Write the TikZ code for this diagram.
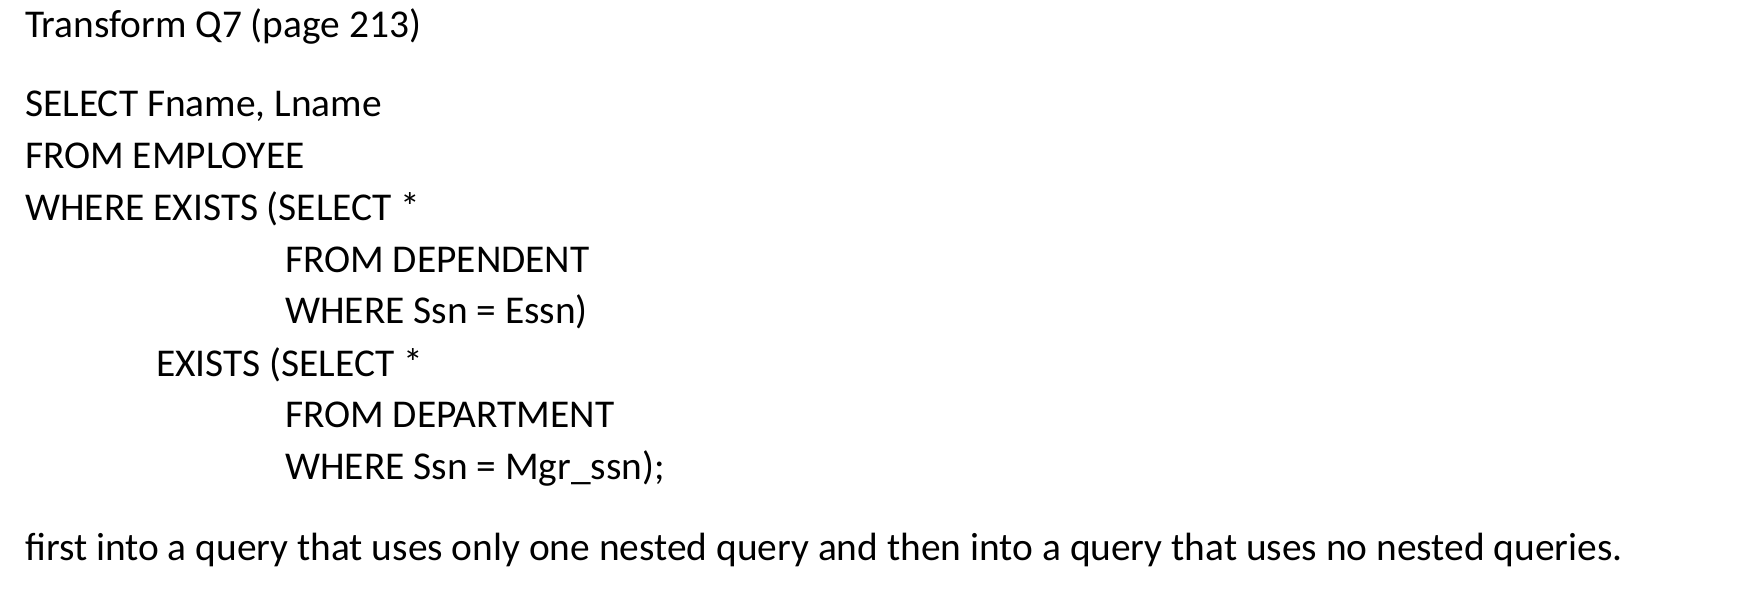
\documentclass[tikz,border=0pt]{standalone}
\usepackage{fontspec}
\setmainfont{Carlito}
\begin{document}
\begin{tikzpicture}[x=1pt,y=-1pt,txt/.style={anchor=base west,inner sep=0pt,font=\fontsize{39.4}{46}\selectfont}]
\useasboundingbox[fill=white] (0,0) rectangle (1746,592);
\node[txt] (t) at (25,37) {Transform Q7 (page 213)};
\node[txt] (l1) at (25,116) {SELECT Fname, Lname};
\node[txt] (l2) at (25,168) {FROM EMPLOYEE};
\node[txt] (l3) at (25,220) {WHERE EXISTS (SELECT *};
\node[txt] (l4) at (285,272) {FROM DEPENDENT};
\node[txt] (l5) at (285,323) {WHERE Ssn = Essn)};
\node[txt] (l6) at (156,376) {EXISTS (SELECT *};
\node[txt] (l7) at (285,427) {FROM DEPARTMENT};
\node[txt] (l8) at (285,479) {WHERE Ssn = Mgr\_ssn);};
\node[txt] (l9) at (25,560) {first into a query that uses only one nested query and then into a query that uses no nested queries.};
\end{tikzpicture}
\end{document}
